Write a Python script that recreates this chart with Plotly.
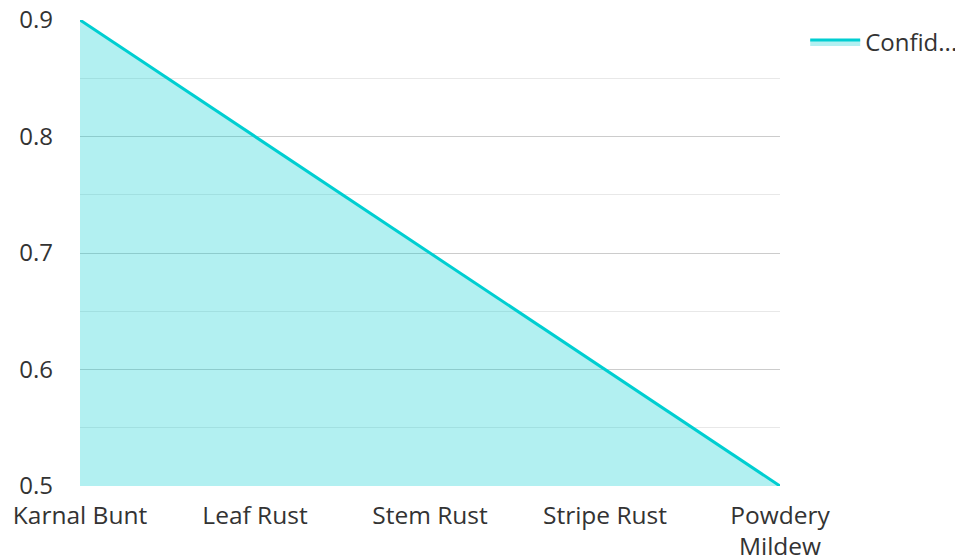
import plotly.graph_objects as go

categories = ["Karnal Bunt", "Leaf Rust", "Stem Rust", "Stripe Rust", "Powdery Mildew"]
tick_labels = ["Karnal Bunt", "Leaf Rust", "Stem Rust", "Stripe Rust", "Powdery<br>Mildew"]
confidence = [0.9, 0.8, 0.7, 0.6, 0.5]
series_name = "Confid..."

fig = go.Figure()
fig.add_trace(go.Scatter(
    x=categories, y=confidence, name=series_name, mode="lines",
    line=dict(color="#00CED1", width=3),
    fill="tozeroy", fillcolor="rgba(0,206,209,0.3)",
    showlegend=True,
))

fig.update_layout(
    width=985, height=558,
    margin=dict(l=72, r=213, t=12, b=80),
    paper_bgcolor="white", plot_bgcolor="white",
    font=dict(family="Open Sans", size=24, color="#333333"),
    legend=dict(x=1.036, xanchor="left", y=1.0, yanchor="top", itemwidth=50,
                font=dict(size=24), bgcolor="rgba(0,0,0,0)"),
    xaxis=dict(
        type="category", categoryorder="array", categoryarray=categories,
        tickmode="array", tickvals=categories, ticktext=tick_labels,
        range=[0, 4], showgrid=False, zeroline=False, showline=False,
        ticks="", ticklabelstandoff=12, automargin=False,
        tickfont=dict(size=24.5), ticklabeloverflow="allow",
    ),
    yaxis=dict(
        range=[0.5, 0.9], dtick=0.1, tick0=0.5, tickformat=".1f",
        showgrid=True, gridcolor="#cccccc", gridwidth=1,
        minor=dict(dtick=0.05, tick0=0.5, showgrid=True, gridcolor="#e8e8e8", gridwidth=1),
        zeroline=False, showline=False, ticks="", ticklabelstandoff=26, automargin=False,
        tickfont=dict(size=24), ticklabeloverflow="allow",
    ),
)

fig.write_html("out.html")
